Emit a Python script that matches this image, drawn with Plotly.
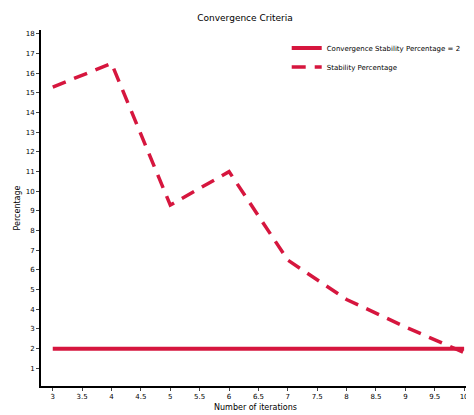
import plotly.graph_objects as go

iterations = [3, 4, 5, 6, 7, 8, 9, 10]
stability = [15.3, 16.5, 9.3, 11.0, 6.5, 4.5, 3.1, 1.8]
threshold = [2, 2, 2, 2, 2, 2, 2, 2]
red = "#d6163e"

fig = go.Figure()
fig.add_trace(go.Scatter(x=iterations, y=threshold, mode="lines",
                         name="Convergence Stability Percentage = 2",
                         line=dict(color=red, width=4)))
fig.add_trace(go.Scatter(x=iterations, y=stability, mode="lines",
                         name="Stability Percentage",
                         line=dict(color=red, width=3.5, dash="14px,9px")))

fig.update_layout(
    width=474, height=415,
    margin=dict(l=33, r=12, t=22, b=37),
    plot_bgcolor="white", paper_bgcolor="white",
    font=dict(family="DejaVu Sans", size=8, color="black"),
    title=dict(text="Convergence Criteria", x=0.5, y=0.985, font=dict(size=9)),
    legend=dict(x=0.99, y=0.99, xanchor="right", yanchor="top",
                font=dict(size=7), bgcolor="rgba(0,0,0,0)", tracegroupgap=0),
    xaxis=dict(title=dict(text="Number of iterations", standoff=4, font=dict(size=8)),
               automargin=False,
               range=[2.8, 10.1], tickvals=[3, 3.5, 4, 4.5, 5, 5.5, 6, 6.5, 7, 7.5, 8, 8.5, 9, 9.5, 10],
               ticktext=["3", "3.5", "4", "4.5", "5", "5.5", "6", "6.5", "7", "7.5", "8", "8.5", "9", "9.5", "10"],
               showgrid=False, showline=True, linecolor="black", linewidth=2,
               ticks="outside", ticklen=3, tickfont=dict(size=7)),
    yaxis=dict(title=dict(text="Percentage", standoff=4, font=dict(size=8)),
               automargin=False,
               range=[0.1, 18.2], dtick=1, tick0=1,
               showgrid=False, zeroline=False, showline=True, linecolor="black", linewidth=2,
               ticks="outside", ticklen=3, tickfont=dict(size=7)),
)
fig.write_html("out.html")
